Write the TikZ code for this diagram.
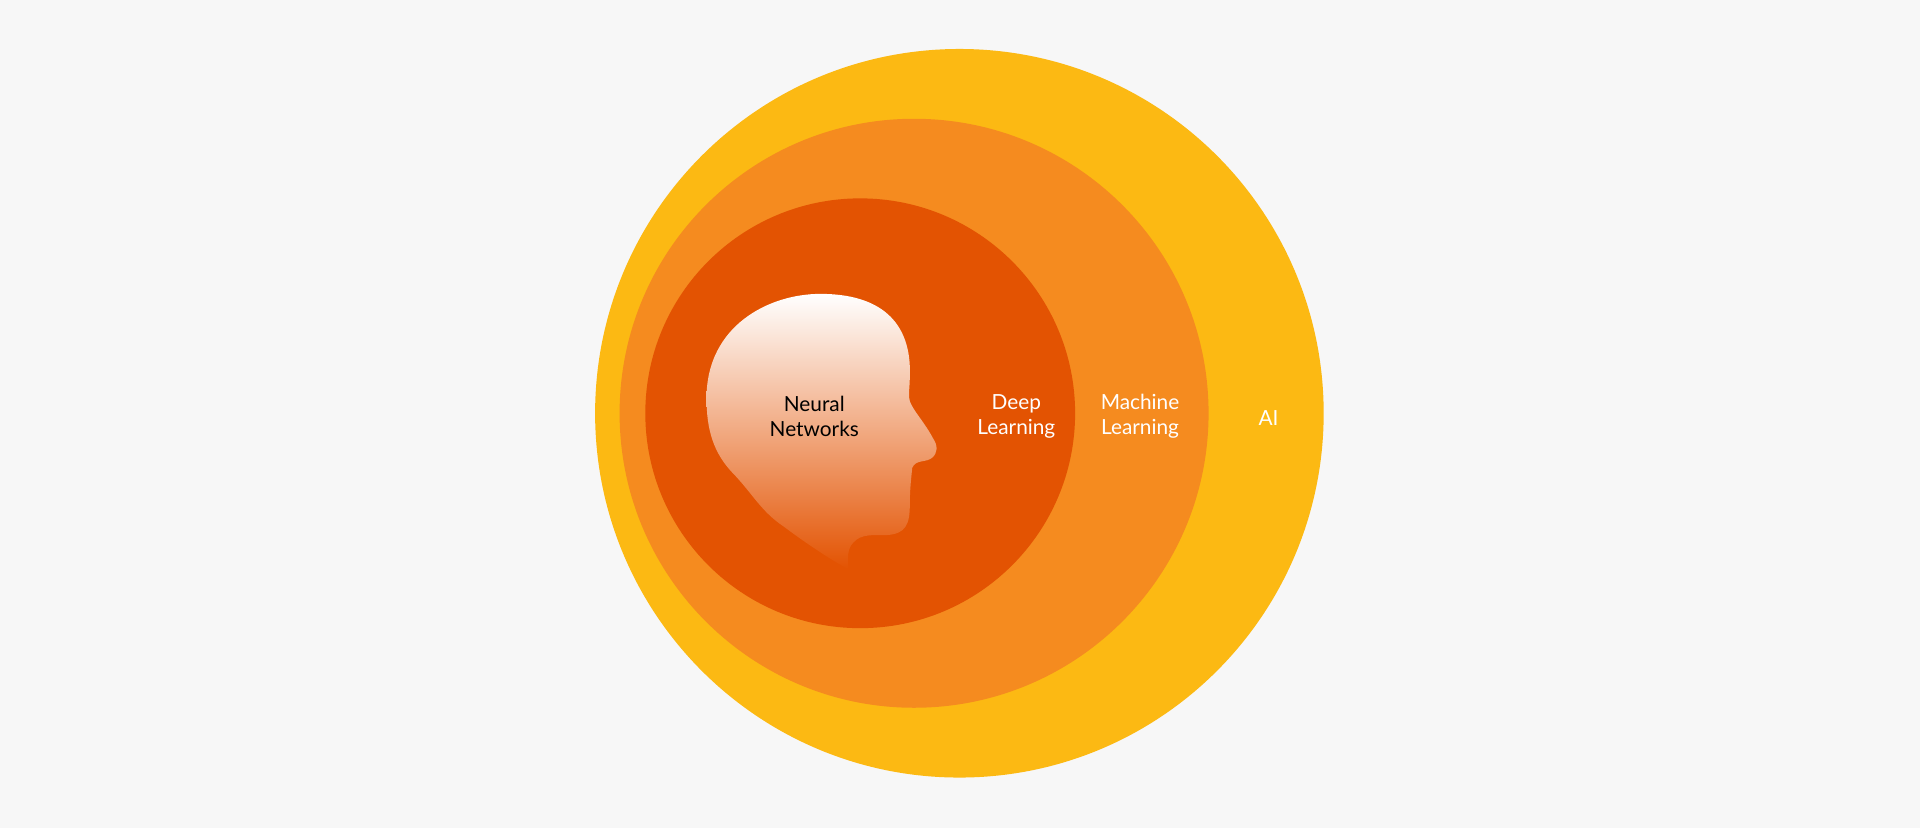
\documentclass[tikz,border=0pt]{standalone}
\usepackage{fontspec}
\setmainfont{Lato}
\definecolor{bg}{HTML}{F7F7F7}
\definecolor{ai}{HTML}{FCB913}
\definecolor{ml}{HTML}{F58B1F}
\definecolor{dl}{HTML}{E35302}
\begin{document}
\begin{tikzpicture}[x=1pt,y=-1pt,
  lbl/.style={align=center,font=\fontsize{17}{20}\selectfont,inner sep=0pt}]
\fill[bg] (0,0) rectangle (1568,676);
\useasboundingbox (0,0) rectangle (1568,676);
\fill[ai] (783.5,337.5) circle (297.5);
\fill[ml] (746.5,337.5) circle (240.5);
\fill[dl] (702.5,337.5) circle (175.5);
\shade[shading angle=-28, top color=white, middle color=white, bottom color=dl]
  (693,465) .. controls (692,455) and (692,448) .. (697,443)
  .. controls (703,436) and (713,437) .. (724,437)
  .. controls (740,436) and (743,428) .. (743,412)
  .. controls (743,400) and (744,392) .. (745,382)
  .. controls (748,375) and (756,378) .. (761,374)
  .. controls (766,370) and (766,364) .. (762,358)
  .. controls (755,345) and (748,338) .. (744,330)
  .. controls (741,324) and (743,318) .. (743,308)
  .. controls (745,262) and (718,240) .. (670,240)
  .. controls (628,240) and (577,266) .. (577,325)
  .. controls (577,350) and (582,370) .. (600,388)
  .. controls (615,404) and (622,418) .. (640,430)
  .. controls (660,445) and (680,458) .. (693,465) -- cycle;
\node[lbl,text=black] (nn) at (665,340) {Neural\\Networks};
\node[lbl,text=white] (dlt) at (830,340) {Deep\\Learning};
\node[lbl,text=white] (mlt) at (931,340) {Machine\\Learning};
\node[lbl,text=white] (ait) at (1036,341) {AI};
\end{tikzpicture}
\end{document}
